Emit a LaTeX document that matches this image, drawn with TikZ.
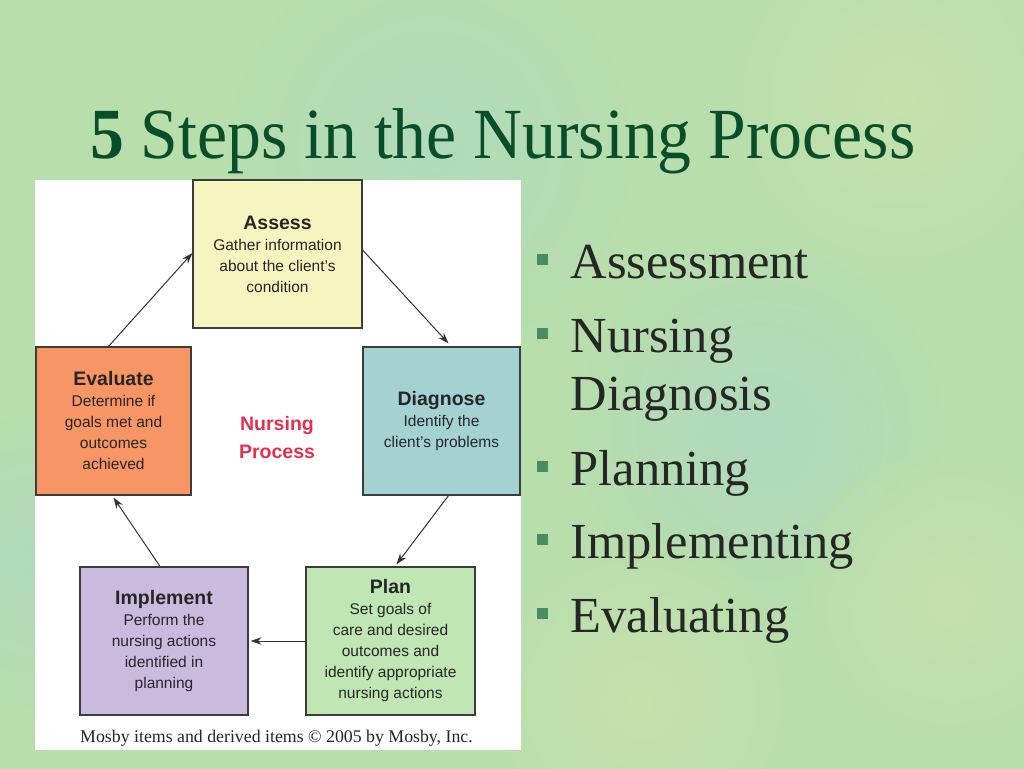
\documentclass[tikz,border=0pt]{standalone}
\usepackage{fontspec}
\setmainfont{Liberation Serif}
\newfontfamily\boxfont{Liberation Sans}
\newfontfamily\titlefont[FakeStretch=0.94]{Liberation Serif}
\usetikzlibrary{arrows.meta,calc}
\definecolor{bgA}{RGB}{184,222,172}
\definecolor{bgB}{RGB}{172,216,196}
\definecolor{bgC}{RGB}{204,228,172}
\definecolor{titlegreen}{RGB}{8,78,42}
\definecolor{bulletgreen}{RGB}{72,140,100}
\definecolor{bodytext}{RGB}{38,38,38}
\definecolor{cyel}{RGB}{246,245,192}
\definecolor{corange}{RGB}{247,150,100}
\definecolor{cteal}{RGB}{164,210,208}
\definecolor{clav}{RGB}{201,187,222}
\definecolor{cgreen}{RGB}{192,230,180}
\definecolor{npred}{RGB}{228,48,78}
\definecolor{edge}{RGB}{60,60,60}
\tikzset{
  stepbox/.style={draw=edge, line width=1.2pt, minimum width=169pt, minimum height=148pt,
    align=center, inner sep=2pt, text=black!85,
    font=\boxfont\fontsize{15.5}{21}\selectfont},
  flow/.style={draw=black!80, line width=1pt, -{Stealth[length=11pt,width=7.5pt]}},
  bullettext/.style={anchor=base west, text=bodytext, font=\fontsize{50.5}{58}\selectfont},
  bulletsq/.style={fill=bulletgreen, minimum size=11pt, inner sep=0pt},
}
\newcommand{\steptitle}[1]{{\fontsize{19.5}{23}\bfseries #1}}
\begin{document}
\begin{tikzpicture}[x=1pt,y=-1pt]
\useasboundingbox (0,0) rectangle (1024,768);
% background
\begin{scope}
\clip (0,0) rectangle (1024,768);
\fill[bgA] (-2,-2) rectangle (1026,770);
\shade[inner color=bgB, outer color=bgA, opacity=0.6] (430,150) circle (220);
\shade[inner color=bgB, outer color=bgA, opacity=0.7] (760,430) circle (200);
\shade[inner color=bgB, outer color=bgA, opacity=0.6] (40,560) circle (160);
\shade[inner color=bgC, outer color=bgA, opacity=0.7] (900,100) circle (180);
\shade[inner color=bgC, outer color=bgA, opacity=0.7] (640,700) circle (160);
\shade[inner color=bgC, outer color=bgA, opacity=0.6] (950,600) circle (150);
\end{scope}
% title
\node[anchor=base west, text=titlegreen, font=\titlefont\fontsize{72}{80}\selectfont, inner sep=0pt] (title) at (90,158) {\textbf{5} Steps in the Nursing Process};
% white panel
\fill[white] (35,180) rectangle (521,750);
% boxes
\node[stepbox, fill=cyel] (assess) at (277.5,254) {\steptitle{Assess}\\Gather information\\about the client’s\\condition};
\node[stepbox, fill=corange, minimum width=155pt] (evaluate) at (113.5,421) {\steptitle{Evaluate}\\Determine if\\goals met and\\outcomes\\achieved};
\node[stepbox, fill=cteal, minimum width=157pt] (diagnose) at (441.5,421) {\steptitle{Diagnose}\\Identify the\\client’s problems};
\node[stepbox, fill=clav, minimum width=168pt] (implement) at (164,641) {\steptitle{Implement}\\Perform the\\nursing actions\\identified in\\planning};
\node[stepbox, fill=cgreen] (plan) at (390.5,641) {\steptitle{Plan}\\Set goals of\\care and desired\\outcomes and\\identify appropriate\\nursing actions};
\node[text=npred, align=center, font=\boxfont\bfseries\fontsize{19.5}{28}\selectfont] (np) at (277,438) {Nursing\\Process};
% connectors
\draw[flow] ($(evaluate.north)+(-5,0)$) -- ($(assess.west)+(0,-1)$);
\draw[flow] ($(assess.east)+(0,-4)$) -- ($(diagnose.north)+(7,-3)$);
\draw[flow] ($(diagnose.south)+(7,0)$) -- ($(plan.north)+(6,-2)$);
\draw[flow] (plan.west) -- ($(implement.east)+(2,0)$);
\draw[flow] ($(implement.north)+(-4,0)$) -- ($(evaluate.south)+(0,2)$);
% caption
\node[font=\fontsize{17.8}{20}\selectfont, text=black!85] (caption) at (276.5,738) {Mosby items and derived items © 2005 by Mosby, Inc.};
% bullets
\node[bullettext] (b1) at (567,278) {Assessment};
\node[bullettext] (b2) at (567,352) {Nursing};
\node[bullettext] (b2b) at (567,410) {Diagnosis};
\node[bullettext] (b3) at (567,485) {Planning};
\node[bullettext] (b4) at (567,558) {Implementing};
\node[bullettext] (b5) at (567,632) {Evaluating};
\node[bulletsq] at (542.5,259) {};
\node[bulletsq] at (542.5,333) {};
\node[bulletsq] at (542.5,466) {};
\node[bulletsq] at (542.5,539) {};
\node[bulletsq] at (542.5,613) {};
\end{tikzpicture}
\end{document}
